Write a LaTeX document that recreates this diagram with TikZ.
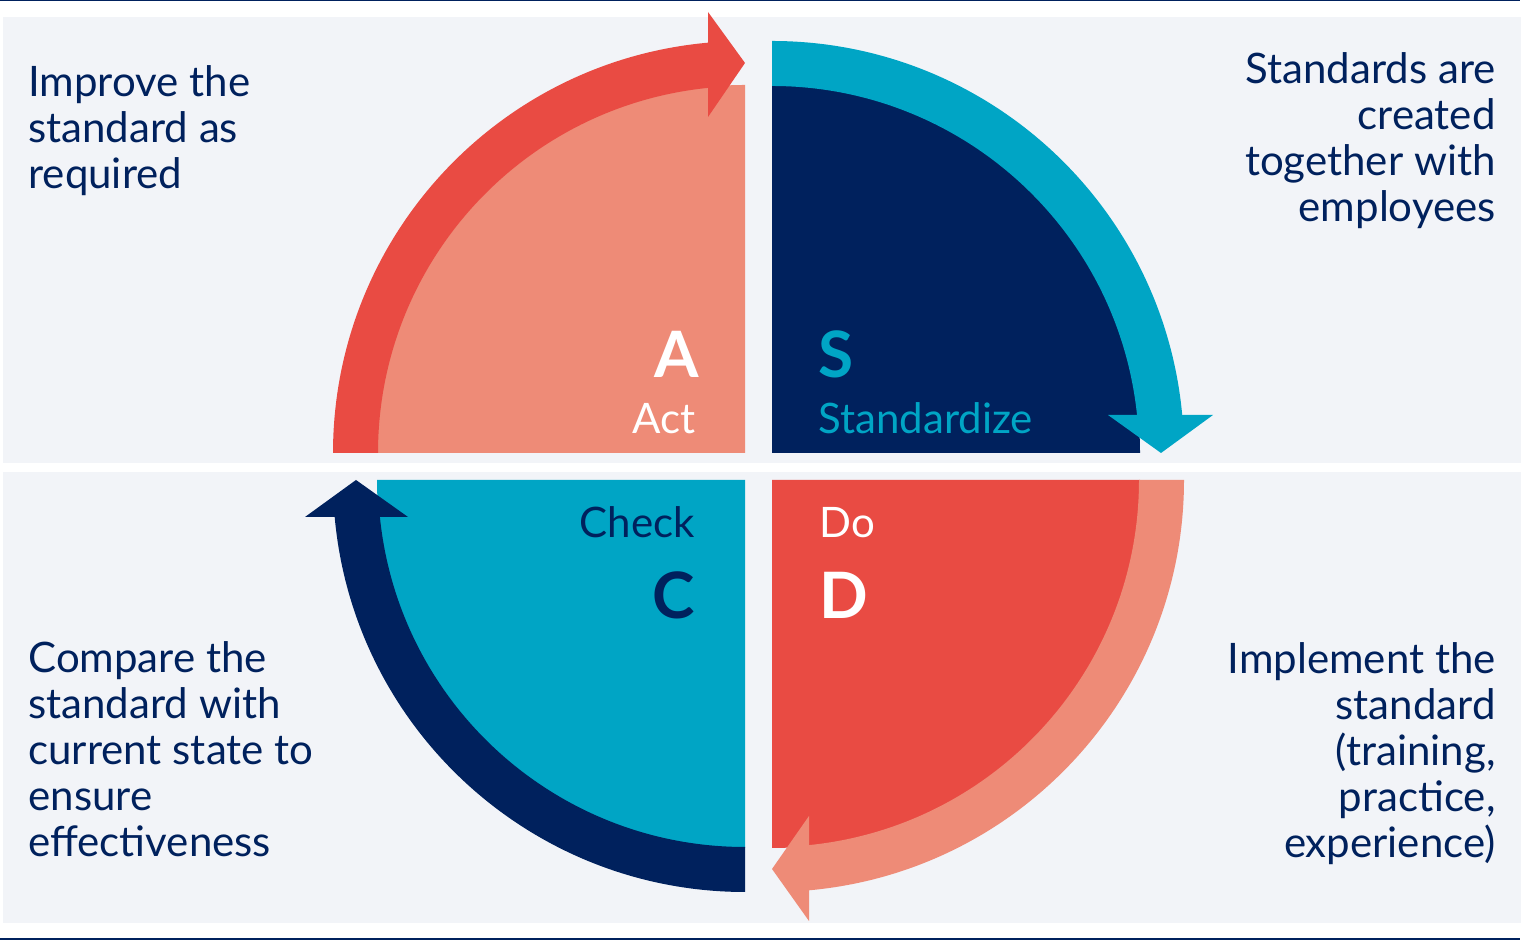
\documentclass[tikz,border=0pt]{standalone}
\usepackage{fontspec}
\setmainfont{Lato}
\definecolor{navy}{RGB}{0,33,93}
\definecolor{tealc}{RGB}{0,165,197}
\definecolor{redc}{RGB}{233,75,67}
\definecolor{salmon}{RGB}{238,139,119}
\definecolor{bgc}{RGB}{242,244,248}
\begin{document}
\begin{tikzpicture}[x=0.5pt,y=0.5pt,
  desc/.style={inner sep=0pt,text=navy,font=\fontsize{21}{23}\selectfont},
  lbl/.style={inner sep=0pt,font=\fontsize{21}{23}\selectfont},
  big/.style={inner sep=0pt,font=\fontsize{32}{36}\selectfont\bfseries}]
\useasboundingbox (0,0) rectangle (1536,940);
\fill[white] (0,0) rectangle (1536,940);
\fill[bgc] (3,477) rectangle (1521,923);
\fill[bgc] (3,17) rectangle (1521,468);
\fill[navy] (0,938.5) rectangle (1520,940);
\fill[navy] (0,0) rectangle (1520,2);
\coordinate (cA) at (745,487);
\coordinate (cS) at (772,487);
\coordinate (cC) at (745,460);
\coordinate (cD) at (772,460);
% quarter discs
\fill[salmon] (cA) -- ([shift={(180:368)}]cA) arc[start angle=180,end angle=90,radius=368] -- cycle;
\fill[navy] (cS) -- ([shift={(90:368)}]cS) arc[start angle=90,end angle=0,radius=368] -- cycle;
\fill[tealc] (cC) -- ([shift={(270:368)}]cC) arc[start angle=270,end angle=180,radius=368] -- cycle;
\fill[redc] (cD) -- ([shift={(0:368)}]cD) arc[start angle=0,end angle=-90,radius=368] -- cycle;
% bands
\fill[redc] ([shift={(180:412)}]cA) arc[start angle=180,end angle=95.15,radius=412]
  -- ([shift={(95.79:367)}]cA) arc[start angle=95.79,end angle=180,radius=367] -- cycle;
\fill[tealc] ([shift={(90:412)}]cS) arc[start angle=90,end angle=5.29,radius=412]
  -- ([shift={(5.94:367)}]cS) arc[start angle=5.94,end angle=90,radius=367] -- cycle;
\fill[navy] ([shift={(270:412)}]cC) arc[start angle=270,end angle=185.15,radius=412]
  -- ([shift={(185.79:367)}]cC) arc[start angle=185.79,end angle=270,radius=367] -- cycle;
\fill[salmon] ([shift={(360:412)}]cD) arc[start angle=360,end angle=275.15,radius=412]
  -- ([shift={(275.79:367)}]cD) arc[start angle=275.79,end angle=360,radius=367] -- cycle;
% arrowheads
\fill[redc] (708,928) -- (745,877) -- (708,823) -- cycle;
\fill[tealc] (1108,525) -- (1161,487) -- (1213,525) -- cycle;
\fill[navy] (305,423) -- (356,460) -- (408,423) -- cycle;
\fill[salmon] (809,124) -- (772,71) -- (809,19) -- cycle;
% quadrant labels
\node[big,text=white,anchor=base east] (bA) at (699,562) {A};
\node[lbl,text=white,anchor=base east] (lA) at (696,506) {Act};
\node[big,text=tealc,anchor=base west] (bS) at (818,562) {S};
\node[lbl,text=tealc,anchor=base west] (lS) at (818,506) {Standardize};
\node[lbl,text=navy,anchor=base east] (lC) at (695,402) {Check};
\node[big,text=navy,anchor=base east] (bC) at (695,321) {C};
\node[lbl,text=white,anchor=base west] (lD) at (819,402) {Do};
\node[big,text=white,anchor=base west] (bD) at (819,321) {D};
% descriptions (base anchor = baseline of last line)
\node[desc,anchor=base west,align=left] (tA) at (28,751) {Improve the\\standard as\\required};
\node[desc,anchor=base east,align=right] (tS) at (1496,718) {Standards are\\created\\together with\\employees};
\node[desc,anchor=base west,align=left] (tC) at (28,83) {Compare the\\standard with\\current state to\\ensure\\effectiveness};
\node[desc,anchor=base east,align=right] (tD) at (1496,82) {Implement the\\standard\\(training,\\practice,\\experience)};
\end{tikzpicture}
\end{document}
